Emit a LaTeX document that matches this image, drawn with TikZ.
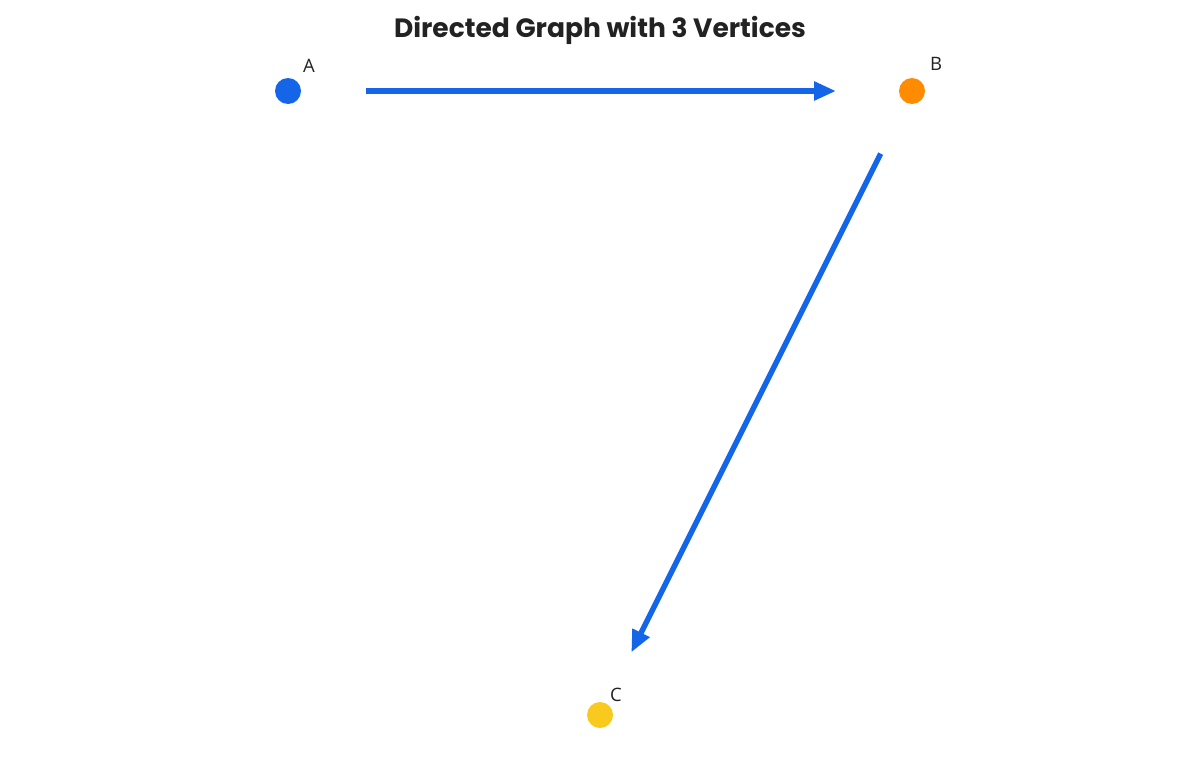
\documentclass[tikz,border=0pt]{standalone}
\usepackage{fontspec}
\setmainfont{Poppins}
\newfontfamily\labelfont{Open Sans}
\usetikzlibrary{arrows.meta}
\definecolor{eblue}{HTML}{1565E8}
\definecolor{vblue}{HTML}{1565E8}
\definecolor{vorange}{HTML}{FF8C00}
\definecolor{vyellow}{HTML}{F9CA1E}
\definecolor{txt}{HTML}{222222}
\tikzset{
  vertex/.style={circle,inner sep=0pt,minimum size=26pt,draw=none},
  vlabel/.style={font=\labelfont\fontsize{18.5}{18.5}\selectfont,text=txt,inner sep=0pt},
  edge/.style={draw=eblue,line width=5.5pt,-{Triangle[length=22pt,width=18pt]}},
}
\begin{document}
\begin{tikzpicture}[x=1pt,y=-1pt]
\useasboundingbox (0,0) rectangle (1200,763);
\node[font=\fontsize{26.5}{26.5}\selectfont\bfseries,text=txt] (title) at (600,30) {Directed Graph with 3 Vertices};
\node[vertex,fill=vblue] (A) at (288,91) {};
\node[vertex,fill=vorange] (B) at (912,91) {};
\node[vertex,fill=vyellow] (C) at (600,715) {};
\node[vlabel] (la) at (309,66) {A};
\node[vlabel] (lb) at (936,64) {B};
\node[vlabel] (lc) at (616,695) {C};
\draw[edge,shorten <=78pt,shorten >=76pt] (A.center) -- (B.center);
\draw[edge,shorten <=70pt,shorten >=70pt] (B.center) -- (C.center);
\end{tikzpicture}
\end{document}
